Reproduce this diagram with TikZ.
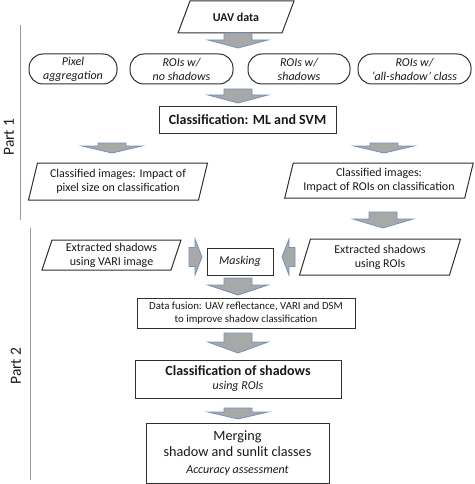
\documentclass[tikz,border=0pt]{standalone}
\usepackage{fontspec}
\setmainfont{Carlito}
\definecolor{arrfill}{HTML}{A8A8A8}
\definecolor{arrline}{HTML}{7592BE}
\definecolor{boxline}{HTML}{303030}
\definecolor{partline}{HTML}{9A9A9A}
\tikzset{
  txt/.style={align=center, inner sep=0pt, font=\fontsize{12}{14}\selectfont, text=black!90},
  itxt/.style={txt, font=\fontsize{12}{14}\selectfont\itshape},
  pline/.style={draw=boxline, line width=1pt, line join=miter},
  rbox/.style={draw=boxline, line width=1pt, inner sep=0pt},
  partlbl/.style={rotate=90, inner sep=0pt, font=\fontsize{15.5}{18}\selectfont, text=black!90},
  blockarrow/.style={fill=arrfill, draw=arrline, line width=0.8pt, line join=miter},
  pics/dnarr/.style 2 args={code={
    \draw[blockarrow] (-14,0) -- (14,0) -- (14,#1) -- (30,#1) -- (0,#1+#2) -- (-30,#1) -- (-14,#1) -- cycle;}},
  pics/rtarr/.style={code={
    \draw[blockarrow] (0,-9.5) -- (6,-9.5) -- (6,-18) -- (13,0) -- (6,18) -- (6,9.5) -- (0,9.5) -- cycle;}},
  pics/ltarr/.style={code={
    \draw[blockarrow] (0,-9.5) -- (-6,-9.5) -- (-6,-18) -- (-13,0) -- (-6,18) -- (-6,9.5) -- (0,9.5) -- cycle;}},
}
% name, cx, cy, w, h, slant, text
\newcommand\parabox[7]{%
  \node[txt] (#1) at (#2,#3) {#7};
  \draw[pline] (#2-#4/2+#6/2,#3-#5/2) -- (#2+#4/2+#6/2,#3-#5/2) -- (#2+#4/2-#6/2,#3+#5/2) -- (#2-#4/2-#6/2,#3+#5/2) -- cycle;}
\begin{document}
\begin{tikzpicture}[x=1pt,y=-1pt]
\useasboundingbox (0,0) rectangle (474,484);
% part labels
\draw[partline, line width=0.7pt] (20,25) -- (20,220);
\draw[partline, line width=0.7pt] (30,228) -- (30,480);
\node[partlbl] (p1) at (9,137) {Part 1};
\node[partlbl] (p2) at (16,366) {Part 2};
% UAV data
\parabox{uav}{236}{17}{104}{32}{12}{\bfseries UAV data}
\pic at (238,33) {dnarr={7}{8}};
% rounded row
\node[rbox, rounded corners=14pt, minimum width=88pt, minimum height=30pt, itxt] (pix) at (73,69) {Pixel\\aggregation};
\node[rbox, rounded corners=14pt, minimum width=103pt, minimum height=30pt, itxt] (nos) at (181.5,69) {ROIs w/\\no shadows};
\node[rbox, rounded corners=14pt, minimum width=102pt, minimum height=30pt, itxt] (sha) at (299,69) {ROIs w/\\shadows};
\node[rbox, rounded corners=14pt, minimum width=113pt, minimum height=30pt, itxt] (all) at (414.5,69) {ROIs w/\\`all-shadow' class};
\pic at (238,89) {dnarr={6}{8}};
% classification
\node[rbox, minimum width=177pt, minimum height=26pt, txt, font=\fontsize{14}{16}\selectfont\bfseries] (cls) at (247.5,120) {Classification: ML and SVM};
\pic at (112,143) {dnarr={3}{7}};
\pic at (384,143) {dnarr={3}{7}};
\parabox{cpix}{118}{181.5}{170}{37}{9}{Classified images: Impact of\\pixel size on classification}
\parabox{croi}{379}{180.5}{180}{35}{8.5}{Classified images:\\Impact of ROIs on classification}
\pic at (383,212) {dnarr={7}{9}};
% part 2
\parabox{evari}{111.5}{255}{129}{30}{10}{Extracted shadows\\using VARI image}
\parabox{eroi}{380}{257}{150}{36}{11}{Extracted shadows\\using ROIs}
\node[rbox, minimum width=66pt, minimum height=27pt, itxt] (mask) at (240,261.5) {Masking};
\pic at (189,257) {rtarr};
\pic at (295,257) {ltarr};
\pic at (238,278) {dnarr={7}{10}};
\node[rbox, minimum width=218pt, minimum height=30pt, txt, font=\fontsize{10.8}{13.5}\selectfont] (fus) at (246,313) {Data fusion: UAV reflectance, VARI and DSM\\to improve shadow classification};
\pic at (238,333) {dnarr={9}{11}};
\node[rbox, minimum width=206pt, minimum height=38pt, txt] (csh) at (238,379) {{\fontsize{14}{16}\selectfont\bfseries Classification of shadows}\\{\fontsize{12}{13}\selectfont\itshape using ROIs}};
\pic at (238,408) {dnarr={4}{7}};
\node[rbox, minimum width=183pt, minimum height=60pt, txt, font=\fontsize{14.2}{16.5}\selectfont] (mrg) at (237.5,453) {Merging\\shadow and sunlit classes\\{\fontsize{12}{14}\selectfont\itshape Accuracy assessment}};
\end{tikzpicture}
\end{document}
